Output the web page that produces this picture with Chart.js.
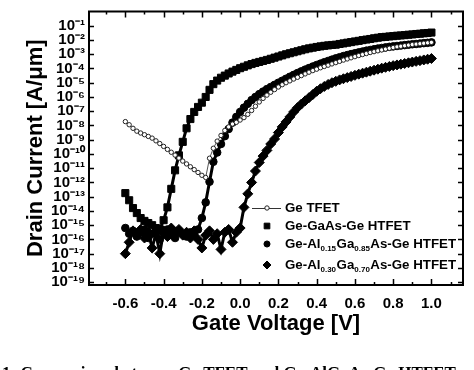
<!DOCTYPE html>
<html>
<head>
<meta charset="utf-8">
<script src="https://cdn.jsdelivr.net/npm/chart.js@4.4.0/dist/chart.umd.min.js"></script>
<style>
  html, body { margin: 0; padding: 0; background: #fff; }
  #wrap { width: 474px; height: 370px; }
</style>
</head>
<body>
<div id="wrap"><canvas id="myChart"></canvas></div>
<script>
// gate voltage (V), shared by all curves
const voltage = [
  -0.60, -0.58, -0.56, -0.54, -0.52, -0.50, -0.48, -0.46, -0.44, -0.42,
  -0.40, -0.38, -0.36, -0.34, -0.32, -0.30, -0.28, -0.26, -0.24, -0.22,
  -0.20, -0.18, -0.16, -0.14, -0.12, -0.10, -0.08, -0.06, -0.04, -0.02,
   0.00,  0.02,  0.04,  0.06,  0.08,  0.10,  0.12,  0.14,  0.16,  0.18,
   0.20,  0.22,  0.24,  0.26,  0.28,  0.30,  0.32,  0.34,  0.36,  0.38,
   0.40,  0.42,  0.44,  0.46,  0.48,  0.50,  0.52,  0.54,  0.56,  0.58,
   0.60,  0.62,  0.64,  0.66,  0.68,  0.70,  0.72,  0.74,  0.76,  0.78,
   0.80,  0.82,  0.84,  0.86,  0.88,  0.90,  0.92,  0.94,  0.96,  0.98,
   1.00
];

// drain current, stored as log10(A/um)
const tfetExp = [
  -7.73, -7.95, -8.20, -8.40, -8.53, -8.65, -8.77, -8.89, -9.08, -9.27,
  -9.47, -9.68, -9.88, -10.08, -10.29, -10.50, -10.70, -10.90, -11.10, -11.30,
  -11.50, -11.65, -10.30, -9.60, -9.10, -8.70, -8.35, -8.10, -7.90, -7.78,
  -7.62, -7.45, -7.22, -6.95, -6.65, -6.35, -6.10, -5.87, -5.67, -5.48,
  -5.30, -5.14, -5.00, -4.87, -4.74, -4.62, -4.50, -4.38, -4.26, -4.15,
  -4.05, -3.95, -3.86, -3.77, -3.68, -3.59, -3.50, -3.41, -3.33, -3.25,
  -3.17, -3.09, -3.02, -2.95, -2.88, -2.82, -2.76, -2.70, -2.64, -2.58,
  -2.53, -2.48, -2.44, -2.40, -2.36, -2.32, -2.29, -2.26, -2.23, -2.20,
  -2.17
];
const gaasExp = [
  -12.75, -13.25, -13.80, -14.15, -14.50, -14.70, -14.85, -15.00, -15.20, -15.30,
  -14.65, -13.75, -12.45, -11.15, -10.10, -9.15, -8.20, -7.55, -7.05, -6.70,
  -6.40, -6.00, -5.50, -5.10, -4.85, -4.65, -4.50, -4.35, -4.22, -4.10,
  -3.98, -3.88, -3.78, -3.69, -3.61, -3.54, -3.47, -3.40, -3.32, -3.24,
  -3.16, -3.08, -3.00, -2.93, -2.86, -2.79, -2.72, -2.65, -2.59, -2.54,
  -2.49, -2.45, -2.41, -2.38, -2.35, -2.33, -2.28, -2.24, -2.19, -2.15,
  -2.10, -2.06, -2.01, -1.97, -1.93, -1.88, -1.84, -1.80, -1.78, -1.75,
  -1.73, -1.70, -1.68, -1.66, -1.63, -1.61, -1.58, -1.56, -1.53, -1.51,
  -1.48
];
const al15Exp = [
  -15.2, -15.6, -15.4, -15.8, -15.5, -15.3, -15.9, -15.6, -15.4, -16.0,
  -15.5, -15.3, -15.7, -15.9, -15.4, -15.6, -15.8, -15.5, -15.7, -15.3,
  -14.50, -13.40, -11.95, -10.55, -9.90, -9.30, -8.75, -8.25, -7.80, -7.40,
  -7.05, -6.75, -6.48, -6.22, -6.00, -5.80, -5.62, -5.45, -5.30, -5.15,
  -5.00, -4.86, -4.72, -4.58, -4.45, -4.32, -4.20, -4.08, -3.97, -3.86,
  -3.76, -3.66, -3.56, -3.47, -3.38, -3.29, -3.21, -3.13, -3.06, -2.99,
  -2.93, -2.87, -2.81, -2.75, -2.70, -2.65, -2.60, -2.56, -2.52, -2.48,
  -2.45, -2.42, -2.39, -2.36, -2.33, -2.30, -2.28, -2.25, -2.22, -2.20,
  -2.17
];
const al30Exp = [
  -17.0, -16.2, -15.4, -15.7, -15.3, -15.9, -15.5, -16.6, -15.6, -17.0,
  -15.4, -15.8, -15.2, -15.6, -15.3, -15.7, -15.5, -15.9, -15.4, -16.0,
  -16.6, -15.7, -15.4, -16.0, -15.6, -16.7, -15.5, -15.3, -16.2, -15.5,
  -15.20, -13.75, -12.80, -12.00, -11.20, -10.60, -10.15, -9.75, -9.30, -8.95,
  -8.50, -8.10, -7.75, -7.40, -7.05, -6.75, -6.50, -6.27, -6.05, -5.83,
  -5.60, -5.42, -5.26, -5.12, -5.00, -4.90, -4.80, -4.72, -4.64, -4.56,
  -4.48, -4.40, -4.33, -4.26, -4.19, -4.12, -4.05, -3.98, -3.92, -3.86,
  -3.80, -3.75, -3.70, -3.65, -3.60, -3.55, -3.50, -3.45, -3.40, -3.35,
  -3.30
];

const yTickExp = [-1, -2, -3, -4, -5, -6, -7, -8, -9, -10, -11, -12, -13, -14, -15, -16, -17, -18, -19];
const xMajor = [-0.6, -0.4, -0.2, 0.0, 0.2, 0.4, 0.6, 0.8, 1.0];
const xMinor = [-0.7, -0.5, -0.3, -0.1, 0.1, 0.3, 0.5, 0.7, 0.9, 1.1];

const sup = { '-': '\u207B', '0': '\u2070', '1': '\u00B9', '2': '\u00B2', '3': '\u00B3', '4': '\u2074',
  '5': '\u2075', '6': '\u2076', '7': '\u2077', '8': '\u2078', '9': '\u2079' };
const supText = n => String(n).split('').map(c => sup[c]).join('');

function toPoints(exps) {
  return voltage.map((v, i) => ({ x: v, y: Math.pow(10, exps[i]) }));
}

const FONT = '"Liberation Sans", Arial, sans-serif';

// box with inward ticks on all four sides
const framePlugin = {
  id: 'frame',
  afterDraw(chart) {
    const { ctx, chartArea: a, scales: { x, y } } = chart;
    ctx.save();
    ctx.strokeStyle = '#000';
    ctx.lineWidth = 1.5;
    ctx.beginPath();
    xMajor.forEach(v => {
      const px = Math.round(x.getPixelForValue(v)) + 0.5;
      ctx.moveTo(px, a.bottom); ctx.lineTo(px, a.bottom - 6);
      ctx.moveTo(px, a.top); ctx.lineTo(px, a.top + 6);
    });
    xMinor.forEach(v => {
      const px = Math.round(x.getPixelForValue(v)) + 0.5;
      ctx.moveTo(px, a.bottom); ctx.lineTo(px, a.bottom - 3);
      ctx.moveTo(px, a.top); ctx.lineTo(px, a.top + 3);
    });
    yTickExp.forEach(e => {
      const py = Math.round(y.getPixelForValue(Math.pow(10, e))) + 0.5;
      ctx.moveTo(a.left, py); ctx.lineTo(a.left + 5, py);
      ctx.moveTo(a.right, py); ctx.lineTo(a.right - 5, py);
    });
    ctx.stroke();
    ctx.lineWidth = 2;
    ctx.strokeRect(a.left, a.top, a.right - a.left, a.bottom - a.top);

    // cut-off figure caption at the bottom edge
    ctx.fillStyle = '#000';
    ctx.font = 'bold 17px "Liberation Serif", serif';
    ctx.textBaseline = 'alphabetic';
    ctx.textAlign = 'left';
    ctx.fillText('1: Comparison between Ge TFET and Ge-AlGaAs-Ge HTFETs', 2, 378);
    ctx.restore();
  }
};

// legend with subscripted compositions
const legendPlugin = {
  id: 'legendBox',
  afterDatasetsDraw(chart) {
    const ctx = chart.ctx;
    const ds = chart.data.datasets;
    const mx = 267, tx = 285;
    const rows = [
      { y: 208, parts: [['Ge TFET', 0]] },
      { y: 226, parts: [['Ge-GaAs-Ge HTFET', 0]] },
      { y: 244, parts: [['Ge-Al', 0], ['0.15', 1], ['Ga', 0], ['0.85', 1], ['As-Ge HTFET', 0]] },
      { y: 265, parts: [['Ge-Al', 0], ['0.30', 1], ['Ga', 0], ['0.70', 1], ['As-Ge HTFET', 0]] }
    ];
    ctx.save();
    // line sample for the TFET
    ctx.strokeStyle = '#333';
    ctx.lineWidth = 1;
    ctx.beginPath();
    ctx.moveTo(252, 208.5); ctx.lineTo(281, 208.5);
    ctx.stroke();
    rows.forEach((r, i) => {
      const d = ds[i];
      const rad = i === 0 ? d.pointRadius : d.pointRadius * 0.8;
      ctx.fillStyle = d.pointBackgroundColor;
      ctx.strokeStyle = d.pointBorderColor;
      ctx.lineWidth = d.pointBorderWidth;
      Chart.helpers.drawPoint(ctx, { pointStyle: d.pointStyle, radius: rad, borderWidth: d.pointBorderWidth }, mx, r.y);
      let x = tx;
      ctx.fillStyle = '#000';
      ctx.textBaseline = 'middle';
      ctx.textAlign = 'left';
      r.parts.forEach(([t, sub]) => {
        ctx.font = sub ? 'bold 8px ' + FONT : 'bold 13.3px ' + FONT;
        ctx.fillText(t, x, sub ? r.y + 5 : r.y);
        x += ctx.measureText(t).width + (sub ? 0.5 : 0);
      });
    });
    ctx.restore();
  }
};

const ctx = document.getElementById('myChart').getContext('2d');

new Chart(ctx, {
  type: 'scatter',
  data: {
    datasets: [
      {
        label: 'Ge TFET',
        data: toPoints(tfetExp),
        showLine: true,
        borderColor: '#555',
        borderWidth: 1,
        pointStyle: 'circle',
        pointRadius: 2.2,
        pointBorderWidth: 1,
        pointBackgroundColor: '#fff',
        pointBorderColor: '#222'
      },
      {
        label: 'Ge-GaAs-Ge HTFET',
        data: toPoints(gaasExp),
        showLine: true,
        borderColor: '#000',
        borderWidth: 3,
        pointStyle: 'rect',
        pointRadius: 5,
        pointBorderWidth: 1,
        pointBackgroundColor: '#000',
        pointBorderColor: '#000'
      },
      {
        label: 'Ge-Al0.15Ga0.85As-Ge HTFET',
        data: toPoints(al15Exp),
        showLine: true,
        borderColor: '#000',
        borderWidth: 3,
        pointStyle: 'circle',
        pointRadius: 3.8,
        pointBorderWidth: 1,
        pointBackgroundColor: '#000',
        pointBorderColor: '#000'
      },
      {
        label: 'Ge-Al0.30Ga0.70As-Ge HTFET',
        data: toPoints(al30Exp),
        showLine: true,
        borderColor: '#000',
        borderWidth: 3,
        pointStyle: 'rectRot',
        pointRadius: 5,
        pointBorderWidth: 1,
        pointBackgroundColor: '#000',
        pointBorderColor: '#000'
      }
    ]
  },
  options: {
    responsive: true,
    maintainAspectRatio: false,
    animation: false,
    devicePixelRatio: 1,
    layout: { padding: { top: 6, right: 11, bottom: 0, left: 0 } },
    plugins: {
      legend: { display: false },
      tooltip: { enabled: false }
    },
    scales: {
      x: {
        type: 'linear',
        min: -0.79,
        max: 1.165,
        afterBuildTicks: axis => { axis.ticks = xMajor.map(v => ({ value: v })); },
        afterFit: scale => { scale.height = 85; },
        grid: { display: false, drawTicks: false },
        border: { display: false },
        ticks: {
          autoSkip: false,
          maxRotation: 0,
          padding: 10,
          color: '#000',
          font: { family: FONT, size: 15, weight: 'bold' },
          callback: v => v.toFixed(1)
        },
        title: {
          display: true,
          text: 'Gate Voltage [V]',
          color: '#000',
          font: { family: FONT, size: 22, weight: 'bold' },
          padding: { top: 0, bottom: 33 }
        }
      },
      y: {
        type: 'logarithmic',
        min: Math.pow(10, -19.2),
        max: 1,
        afterBuildTicks: axis => { axis.ticks = yTickExp.map(e => ({ value: Math.pow(10, e) })); },
        afterFit: scale => { scale.width = 89; },
        grid: { display: false, drawTicks: false },
        border: { display: false },
        ticks: {
          autoSkip: false,
          padding: 4,
          color: '#000',
          font: { family: FONT, size: 15, weight: 'bold', lineHeight: 1 },
          callback: (v, i) => '10' + supText(yTickExp[i])
        },
        title: {
          display: true,
          text: 'Drain Current [A/\u03BCm]',
          color: '#000',
          font: { family: FONT, size: 22, weight: 'bold' },
          padding: { top: 23, bottom: 0 }
        }
      }
    }
  },
  plugins: [framePlugin, legendPlugin]
});
</script>
</body>
</html>
